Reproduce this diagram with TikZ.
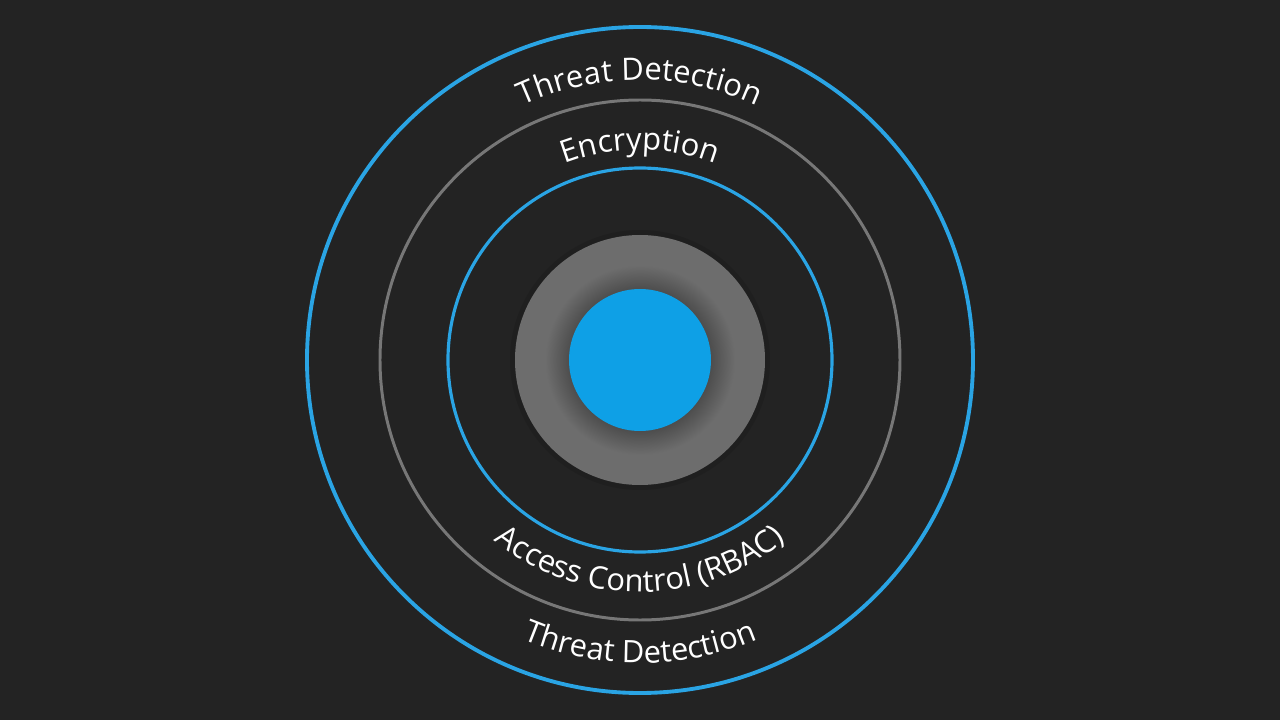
\documentclass[tikz,border=0pt]{standalone}
\usepackage{fontspec}
\setsansfont{Open Sans}
\usepackage{xcolor}
\usetikzlibrary{decorations.text}

\definecolor{bgdark}{HTML}{232323}
\definecolor{ringblue}{HTML}{2AA4E4}
\definecolor{ringgray}{HTML}{777777}
\definecolor{coreblue}{HTML}{0EA0E6}
\definecolor{diskgray}{HTML}{6D6D6D}
\definecolor{diskshadow}{HTML}{4C4C4C}

\pgfdeclareradialshading{diskshade}{\pgfpoint{0bp}{0bp}}{%
  color(0bp)=(diskshadow); color(14bp)=(diskshadow); color(19bp)=(diskgray);
  color(25bp)=(diskgray); color(50bp)=(diskgray)}

\tikzset{
  bluering/.style={draw=ringblue, line width=2.2pt},
  grayring/.style={draw=ringgray, line width=1.7pt},
  toplabel/.style={decorate, decoration={text along path, text align=center,
      text color=white, text={|\sffamily\fontsize{17.6}{20}\selectfont|#1}}},
}

\begin{document}
\begin{tikzpicture}

        % Background
        \fill[bgdark] (-12.8,-7.2) rectangle (12.8,7.2);
        \useasboundingbox (-12.8,-7.2) rectangle (12.8,7.2);
        \coordinate (C) at (0,0);

        % Rings
        \draw[bluering] (C) circle (6.66);
        \draw[grayring] (C) circle (5.2);
        \draw[bluering, line width=1.8pt] (C) circle (3.84);

        % Core
        \fill[black, opacity=0.1] (C) circle (2.6);
        \shade[shading=diskshade] (C) circle (2.5);
        \fill[coreblue] (C) circle (1.42);

        % Labels
        \path[toplabel={Threat Detection}] (C) ++(180:5.6) arc[start angle=180, end angle=0, radius=5.6];
        \path[toplabel={Encryption}] (C) ++(180:4.2) arc[start angle=180, end angle=0, radius=4.2];
        \path[toplabel={Access Control (RBAC)}] (C) ++(180:4.64) arc[start angle=180, end angle=360, radius=4.64];
        \path[toplabel={Threat Detection}] (C) ++(180:6.06) arc[start angle=180, end angle=360, radius=6.06];

    \end{tikzpicture}
\end{document}
